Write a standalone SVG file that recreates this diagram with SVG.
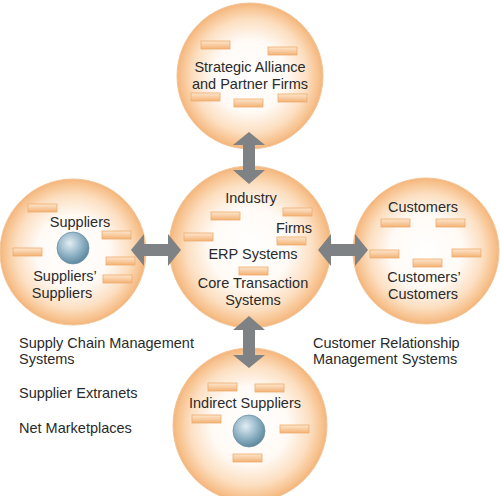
<svg xmlns="http://www.w3.org/2000/svg" width="500" height="496" viewBox="0 0 500 496">
<defs>
<radialGradient id="cg" cx="50%" cy="50%" r="50%">
<stop offset="0" stop-color="#ffffff"/>
<stop offset="0.5" stop-color="#fffaf5"/>
<stop offset="0.78" stop-color="#fcdfc1"/>
<stop offset="0.95" stop-color="#f7c08b"/>
<stop offset="1" stop-color="#f3b47a"/>
</radialGradient>
<linearGradient id="rg" x1="0" y1="0" x2="0" y2="1">
<stop offset="0" stop-color="#fde6cd"/>
<stop offset="1" stop-color="#f3b275"/>
</linearGradient>
<radialGradient id="sg" cx="40%" cy="35%" r="65%">
<stop offset="0" stop-color="#e2eef4"/>
<stop offset="0.6" stop-color="#8fb2c4"/>
<stop offset="1" stop-color="#5f8aa0"/>
</radialGradient>
</defs>
<style>
.c{fill:url(#cg);stroke:#f3c597;stroke-width:1}
.r{fill:url(#rg);stroke:#eeac6e;stroke-width:0.8}
.s{fill:url(#sg);stroke:#6b92a6;stroke-width:0.8}
text{font-family:"Liberation Sans",Arial,sans-serif;font-size:14.5px;fill:#2a2a2a}
.m{text-anchor:middle}
.a{fill:#7f8285}
</style>
<rect width="500" height="496" fill="#ffffff"/>

<g id="top">
<circle class="c" cx="250" cy="76" r="73"/>
<rect class="r" x="201" y="41" width="29" height="8"/>
<rect class="r" x="268" y="47" width="29" height="8"/>
<rect class="r" x="191" y="93" width="29" height="8"/>
<rect class="r" x="234" y="99" width="29" height="8"/>
<rect class="r" x="278" y="94" width="29" height="8"/>
<text class="m" x="250" y="72">Strategic Alliance</text>
<text class="m" x="250" y="89">and Partner Firms</text>
</g>

<g id="left">
<circle class="c" cx="73" cy="252" r="73"/>
<rect class="r" x="28" y="204" width="29" height="8"/>
<rect class="r" x="102" y="231" width="29" height="8"/>
<rect class="r" x="13" y="248" width="29" height="8"/>
<rect class="r" x="106" y="257" width="29" height="8"/>
<rect class="r" x="103" y="275" width="29" height="8"/>
<circle class="s" cx="73" cy="248" r="16"/>
<text class="m" x="80" y="227">Suppliers</text>
<text class="m" x="65" y="281">Suppliers’</text>
<text class="m" x="62" y="298">Suppliers</text>
</g>

<g id="center">
<circle class="c" cx="250" cy="247" r="81"/>
<rect class="r" x="211" y="212" width="29" height="8"/>
<rect class="r" x="283" y="208" width="29" height="8"/>
<rect class="r" x="184" y="233" width="29" height="8"/>
<rect class="r" x="277" y="237" width="29" height="8"/>
<rect class="r" x="239" y="267" width="29" height="8"/>
<text class="m" x="251" y="203">Industry</text>
<text class="m" x="294" y="233">Firms</text>
<text class="m" x="253" y="259">ERP Systems</text>
<text class="m" x="253" y="288">Core Transaction</text>
<text class="m" x="253" y="305">Systems</text>
</g>

<g id="right">
<circle class="c" cx="426" cy="251" r="73"/>
<rect class="r" x="381" y="219" width="29" height="8"/>
<rect class="r" x="436" y="219" width="29" height="8"/>
<rect class="r" x="370" y="250" width="29" height="8"/>
<rect class="r" x="413" y="259" width="29" height="8"/>
<rect class="r" x="452" y="249" width="29" height="8"/>
<text class="m" x="423" y="212">Customers</text>
<text class="m" x="424" y="282">Customers’</text>
<text class="m" x="423" y="299">Customers</text>
</g>

<g id="bottom">
<circle class="c" cx="250" cy="425" r="77"/>
<rect class="r" x="208" y="383" width="29" height="8"/>
<rect class="r" x="255" y="384" width="29" height="8"/>
<rect class="r" x="192" y="415" width="29" height="8"/>
<rect class="r" x="280" y="425" width="29" height="8"/>
<rect class="r" x="233" y="454" width="29" height="8"/>
<circle class="s" cx="249" cy="431" r="16"/>
<text class="m" x="245" y="408">Indirect Suppliers</text>
</g>

<g id="labels">
<text x="19" y="348">Supply Chain Management</text>
<text x="19" y="364">Systems</text>
<text x="19" y="398">Supplier Extranets</text>
<text x="19" y="433">Net Marketplaces</text>
<text x="313" y="348">Customer Relationship</text>
<text x="313" y="364">Management Systems</text>
</g>

<g id="connectors">
<polygon class="a" points="249,132 265,145 255,145 255,170 265,170 249,184 233,170 243,170 243,145 233,145"/>
<polygon class="a" points="249,316 265,330 255,330 255,355 265,355 249,368 233,355 243,355 243,330 233,330"/>
<polygon class="a" points="131,250 144,234 144,244 168,244 168,234 181,250 168,266 168,256 144,256 144,266"/>
<polygon class="a" points="318,250 331,234 331,244 355,244 355,234 368,250 355,266 355,256 331,256 331,266"/>
</g>
</svg>
